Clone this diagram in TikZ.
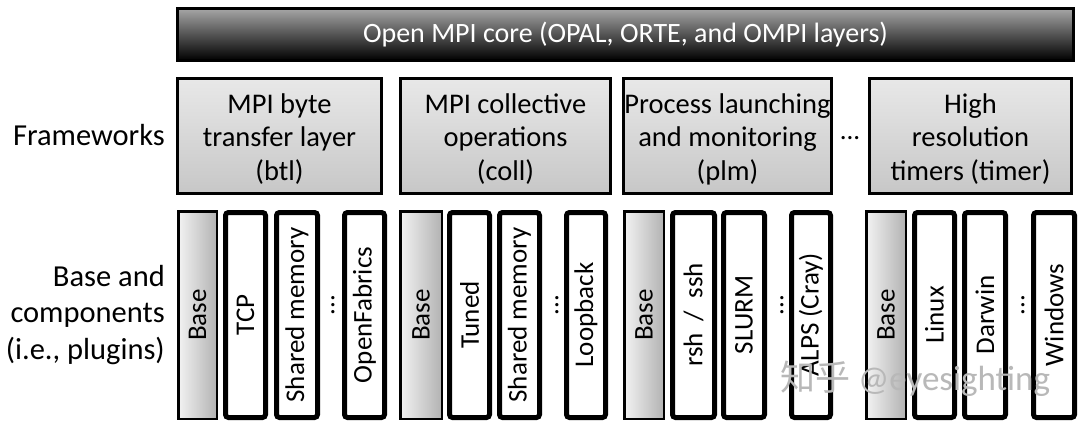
\documentclass[tikz,border=0pt]{standalone}
\usepackage{fontspec}
\setmainfont{Carlito}
\newfontfamily\cjk{Noto Sans CJK SC}
\begin{document}
\begin{tikzpicture}[x=1pt,y=-1pt]
\tikzset{
 core/.style={draw=black, line width=3pt, top color=black!35, bottom color=black, text=white, inner sep=0pt, font=\fontsize{28}{30}\selectfont},
 fw/.style={draw=black, line width=3pt, top color=black!9, bottom color=black!22, inner sep=0pt, minimum height=115pt},
 fwtext/.style={align=center, inner sep=0pt, font=\fontsize{28.5}{33.5}\selectfont},
 basebox/.style={draw=black, line width=2.5pt, left color=black!5, right color=black!30, minimum height=207.5pt, inner sep=0pt},
 plug/.style={draw=black, line width=5pt, fill=white, rounded corners=3pt, minimum height=205pt, inner sep=0pt},
 lbl/.style={rotate=90, inner sep=0pt, font=\fontsize{27}{30}\selectfont},
 vdots/.style={rotate=90, inner sep=0pt, font=\fontsize{27}{30}\selectfont},
 hdots/.style={inner sep=0pt, anchor=base, font=\fontsize{27}{30}\selectfont},
 side/.style={align=right, anchor=east, inner sep=0pt, font=\fontsize{30.5}{36.5}\selectfont},
 wm/.style={text=black!28, inner sep=0pt, font=\fontsize{35}{37}\selectfont}
}
\newcommand{\pbox}[5]{%
 \node[#2, minimum width=#4pt] (#1) at (#3,315) {};
 \node[lbl] (#1t) at (#1.center) {#5};
}
\newcommand{\fwbox}[4]{%
 \node[fw, minimum width=#3pt] (#1) at (#2,136) {};
 \node[fwtext] (#1t) at ([yshift=-3pt]#1.center) {#4};
}
\useasboundingbox (0,0) rectangle (1081,429);

% core bar
\node[core, minimum width=896pt, minimum height=52pt] (core) at (625.5,34.5) {Open MPI core (OPAL, ORTE, and OMPI layers)};

% frameworks
\fwbox{btl}{279.5}{204}{MPI byte\\transfer layer\\(btl)}
\fwbox{coll}{505.5}{210}{MPI collective\\operations\\(coll)}
\fwbox{plm}{727.5}{208}{Process launching\\and monitoring\\(plm)}
\fwbox{timer}{970.5}{202}{High\\resolution\\timers (timer)}
\node[hdots] (fwdots) at (850,139) {...};

% side labels
\node[side] (lfw) at (165,135) {Frameworks};
\node[side] (lbc) at (165,315) {Base and\\components\\(i.e., plugins)};

% group 1
\pbox{g1base}{basebox}{197.5}{38.5}{Base}
\pbox{g1tcp}{plug}{245.5}{40}{TCP}
\pbox{g1sm}{plug}{297}{41}{Shared memory}
\node[vdots] (g1dots) at (333,305) {...};
\pbox{g1of}{plug}{364.5}{40}{OpenFabrics}

% group 2
\pbox{g2base}{basebox}{421}{41.5}{Base}
\pbox{g2tuned}{plug}{469.5}{40}{Tuned}
\pbox{g2sm}{plug}{519.5}{40}{Shared memory}
\node[vdots] (g2dots) at (557,305) {...};
\pbox{g2lb}{plug}{586}{39}{Loopback}

% group 3
\pbox{g3base}{basebox}{644}{39.5}{Base}
\pbox{g3rsh}{plug}{693.5}{42}{rsh\ \ /\ \ ssh}
\pbox{g3slurm}{plug}{744}{41}{SLURM}
\node[vdots] (g3dots) at (782,305) {...};
\pbox{g3alps}{plug}{811}{39}{ALPS (Cray)}

% group 4
\pbox{g4base}{basebox}{886}{39.5}{Base}
\pbox{g4linux}{plug}{934.5}{40}{Linux}
\pbox{g4darwin}{plug}{985}{41}{Darwin}
\node[vdots] (g4dots) at (1023,305) {...};
\pbox{g4win}{plug}{1054}{41}{Windows}

% watermark
\node[wm, anchor=west] (wmark) at (780,379) {{\cjk 知乎} @eyesighting};
\end{tikzpicture}
\end{document}
